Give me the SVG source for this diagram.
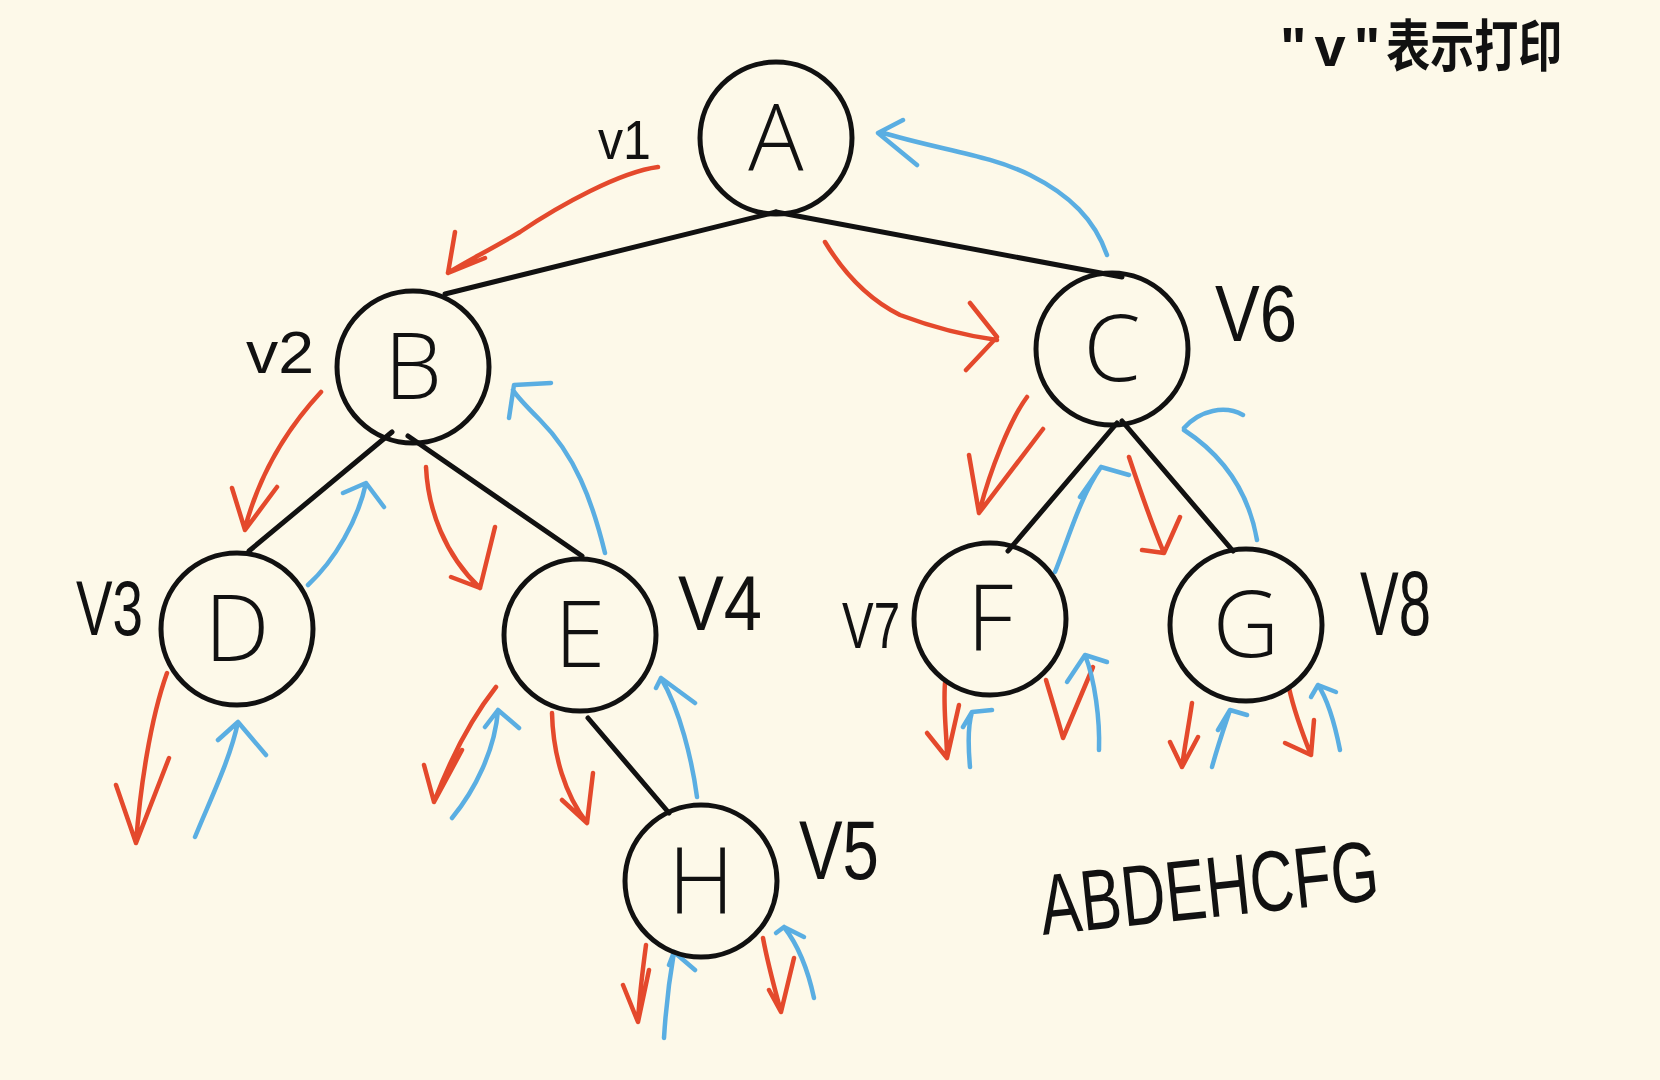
<svg xmlns="http://www.w3.org/2000/svg" width="1660" height="1080" viewBox="0 0 1660 1080">
<style>
.bg{fill:#fdf9e9}
.node circle{fill:none;stroke:#111;stroke-width:5}
.node text{font-family:"Open Sans","Liberation Sans",sans-serif;font-weight:300;font-size:92px;fill:#111;text-anchor:middle}
.lbl{font-family:"Liberation Sans","DejaVu Sans",sans-serif;fill:#111;font-size:64px}
.edge{stroke:#111;stroke-width:5;stroke-linecap:round;fill:none}
.r{stroke:#e4492c;stroke-width:4.5;fill:none;stroke-linecap:round;stroke-linejoin:round}
.b{stroke:#5aaee2;stroke-width:4.5;fill:none;stroke-linecap:round;stroke-linejoin:round}
</style>
<rect class="bg" x="0" y="0" width="1660" height="1080"/>

<g id="edges">
<line class="edge" x1="776" y1="212" x2="445" y2="294"/>
<line class="edge" x1="776" y1="212" x2="1122" y2="277"/>
<line class="edge" x1="392" y1="432" x2="249" y2="551"/>
<line class="edge" x1="408" y1="436" x2="582" y2="556"/>
<line class="edge" x1="1117" y1="423" x2="1008" y2="551"/>
<line class="edge" x1="1122" y1="421" x2="1233" y2="551"/>
<line class="edge" x1="588" y1="718" x2="669" y2="813"/>
</g>

<g id="red-arrows">
<path class="r" d="M658,167 C620,172 560,205 520,232 C490,250 465,262 448,273 M455,232 L448,273 L485,258"/>
<path class="r" d="M825,242 C845,275 870,300 900,315 C940,330 975,337 997,340 M970,303 L997,337 L966,370"/>
<path class="r" d="M321,392 C295,420 262,465 245,528 M232,488 L245,530 L277,487"/>
<path class="r" d="M426,467 C428,510 445,555 480,588 M451,577 L480,588 L495,527"/>
<path class="r" d="M1027,397 C1010,420 990,470 979,513 M1043,429 L979,513 L969,455"/>
<path class="r" d="M1129,457 C1140,490 1152,525 1164,553 M1142,550 L1164,553 L1180,517"/>
<path class="r" d="M167,673 C150,720 140,790 136,843 M116,785 L136,843 L169,758"/>
<path class="r" d="M496,687 C470,720 450,760 434,802 M424,765 L434,802 L462,750"/>
<path class="r" d="M552,713 C553,755 565,795 587,823 M562,800 L587,823 L593,773"/>
<path class="r" d="M945,683 C943,710 947,735 947,758 M927,733 L947,758 L959,705"/>
<path class="r" d="M1046,680 C1052,700 1058,720 1063,738 L1093,667"/>
<path class="r" d="M1192,703 C1188,730 1184,750 1182,767 M1170,742 L1182,767 L1198,737"/>
<path class="r" d="M1289,688 C1295,715 1305,740 1311,755 M1285,743 L1311,755 L1314,720"/>
<path class="r" d="M646,945 C642,975 639,1000 638,1022 M623,985 L638,1022 L649,970"/>
<path class="r" d="M763,938 C768,965 775,990 781,1012 M769,990 L781,1012 L794,958"/>
</g>

<g id="blue-arrows">
<path class="b" d="M1107,255 C1095,220 1070,195 1030,175 C990,155 940,150 880,132 M903,120 L878,133 L917,165"/>
<path class="b" d="M308,585 C335,560 358,520 366,483 M343,493 L366,483 L384,507"/>
<path class="b" d="M605,553 C592,500 575,455 540,420 C525,405 516,395 513,390 M509,418 L514,385 L551,383"/>
<path class="b" d="M1055,572 C1068,540 1080,497 1101,467 M1080,497 L1101,467 L1129,475"/>
<path class="b" d="M1257,540 C1250,500 1230,460 1184,430 M1243,415 C1225,405 1200,410 1184,428"/>
<path class="b" d="M195,837 C210,800 230,760 238,722 M218,740 L238,722 L266,755"/>
<path class="b" d="M452,818 C475,790 495,750 498,710 M485,727 L498,710 L519,728"/>
<path class="b" d="M697,797 C692,760 680,710 661,678 M656,688 L661,678 L695,703"/>
<path class="b" d="M970,767 C968,745 968,725 972,712 M963,727 L972,712 L992,710"/>
<path class="b" d="M1099,750 C1100,720 1095,680 1085,655 M1067,682 L1085,655 L1107,662"/>
<path class="b" d="M1212,767 C1218,745 1225,725 1230,710 M1218,730 L1230,710 L1247,715"/>
<path class="b" d="M1340,750 C1335,725 1328,700 1318,685 M1311,697 L1318,685 L1336,692"/>
<path class="b" d="M664,1038 C666,1005 670,975 674,952 M669,965 L674,952 L695,970"/>
<path class="b" d="M814,998 C808,970 798,945 784,927 M776,933 L784,927 L804,937"/>
</g>

<g id="node-A" class="node"><circle cx="776" cy="138" r="76"/><text x="776" y="170">A</text></g>
<g id="node-B" class="node"><circle cx="413" cy="367" r="76"/><text x="413" y="399">B</text></g>
<g id="node-C" class="node"><circle cx="1112" cy="349" r="76"/><text x="1112" y="381">C</text></g>
<g id="node-D" class="node"><circle cx="237" cy="629" r="76"/><text x="237" y="661">D</text></g>
<g id="node-E" class="node"><circle cx="580" cy="635" r="76"/><text x="580" y="667">E</text></g>
<g id="node-F" class="node"><circle cx="990" cy="619" r="76"/><text x="990" y="651">F</text></g>
<g id="node-G" class="node"><circle cx="1246" cy="625" r="76"/><text x="1246" y="657">G</text></g>
<g id="node-H" class="node"><circle cx="701" cy="881" r="76"/><text x="701" y="913">H</text></g>

<g id="labels">
<text class="lbl" x="598" y="159" textLength="53" lengthAdjust="spacingAndGlyphs" style="font-size:56px">v1</text>
<text class="lbl" x="246" y="373" textLength="68" lengthAdjust="spacingAndGlyphs" style="font-size:60px">v2</text>
<text class="lbl" x="76" y="635" textLength="67" lengthAdjust="spacingAndGlyphs" style="font-size:78px">V3</text>
<text class="lbl" x="678" y="630" textLength="84" lengthAdjust="spacingAndGlyphs" style="font-size:78px">V4</text>
<text class="lbl" x="799" y="879" textLength="80" lengthAdjust="spacingAndGlyphs" style="font-size:84px">V5</text>
<text class="lbl" x="1215" y="341" textLength="82" lengthAdjust="spacingAndGlyphs" style="font-size:80px">V6</text>
<text class="lbl" x="842" y="648" textLength="58" lengthAdjust="spacingAndGlyphs" style="font-size:64px">V7</text>
<text class="lbl" x="1360" y="635" textLength="71" lengthAdjust="spacingAndGlyphs" style="font-size:90px">V8</text>
<text class="lbl" x="1280" y="66" style="font-size:56px;font-weight:bold;font-family:'Liberation Sans','Noto Sans CJK SC',sans-serif">"<tspan dx="8">v</tspan><tspan dx="8">"</tspan><tspan dx="6" textLength="176" lengthAdjust="spacingAndGlyphs">表示打印</tspan></text>
<text class="lbl" x="1043" y="935" transform="rotate(-6 1043 935)" textLength="340" lengthAdjust="spacingAndGlyphs" style="font-size:86px">ABDEHCFG</text>
</g>
</svg>
